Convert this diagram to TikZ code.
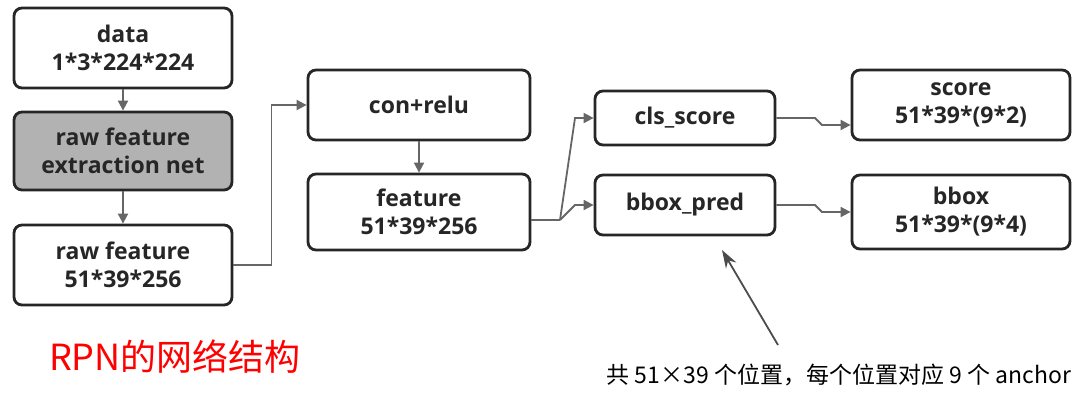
\documentclass[tikz,border=0pt]{standalone}
\usepackage{fontspec}
\setmainfont{Open Sans}
\newfontfamily\cjk{Noto Sans CJK SC}
\usetikzlibrary{arrows.meta}
\begin{document}
\begin{tikzpicture}[x=0.5pt,y=-0.5pt,
  bx/.style={draw=black!85,line width=1.4pt,rounded corners=4pt,fill=white,align=center,
    font=\fontsize{11.5}{14}\selectfont\bfseries,text=black!85,inner sep=0pt},
  ar/.style={draw=black!60,line width=0.9pt,-{Triangle[length=5pt,width=5pt]}}]
\useasboundingbox (0,0) rectangle (1085,408);
\fill[white] (0,0) rectangle (1085,408);
\node[bx,minimum width=109pt,minimum height=40pt] (data) at (123,48) {data\\1*3*224*224};
\node[bx,fill=black!30,minimum width=109pt,minimum height=39pt] (net) at (123,151) {raw feature\\extraction net};
\node[bx,minimum width=109pt,minimum height=40pt] (raw) at (123,265) {raw feature\\51*39*256};
\node[bx,minimum width=111pt,minimum height=35pt] (conv) at (419,105) {con+relu};
\node[bx,minimum width=111pt,minimum height=38pt] (feat) at (419,212) {feature\\51*39*256};
\node[bx,minimum width=90pt,minimum height=27pt] (cls) at (685,118) {cls\_score};
\node[bx,minimum width=90pt,minimum height=30pt] (bbp) at (685,205) {bbox\_pred};
\node[bx,minimum width=109pt,minimum height=35pt] (score) at (961,105) {score\\51*39*(9*2)};
\node[bx,minimum width=109pt,minimum height=37pt] (bbox) at (961,212) {bbox\\51*39*(9*4)};
\draw[ar] (data) -- (net);
\draw[ar] (net) -- (raw);
\draw[ar] (raw.east) -- ++(38,0) |- (conv.west);
\draw[ar] (conv) -- (feat);
\coordinate (j) at (560,220);
\draw[draw=black!60,line width=0.9pt] (feat.east |- j) -- (j);
\draw[ar] (j) -- (575,118) -- (cls.west);
\draw[ar] (j) -- (575,205) -- (bbp.west);
\draw[ar] (cls.east) -- (815,118) -- (822,125) -- (score.west |- 0,125);
\draw[ar] (bbp.east) -- (815,205) -- (822,212) -- (bbox.west);
\coordinate (tail) at (778,345);
\draw[draw=black!70,line width=0.9pt,-{Stealth[length=9pt,width=6pt]}] (tail) -- (722,250);
\node[anchor=west,text=red,font=\cjk\fontsize{18}{21}\selectfont] (title) at (42,357) {RPN的网络结构};
\node[anchor=east,font=\cjk\fontsize{11.5}{13}\selectfont] (cap) at (1078,375) {共 51×39 个位置，每个位置对应 9 个 anchor};
\end{tikzpicture}
\end{document}
